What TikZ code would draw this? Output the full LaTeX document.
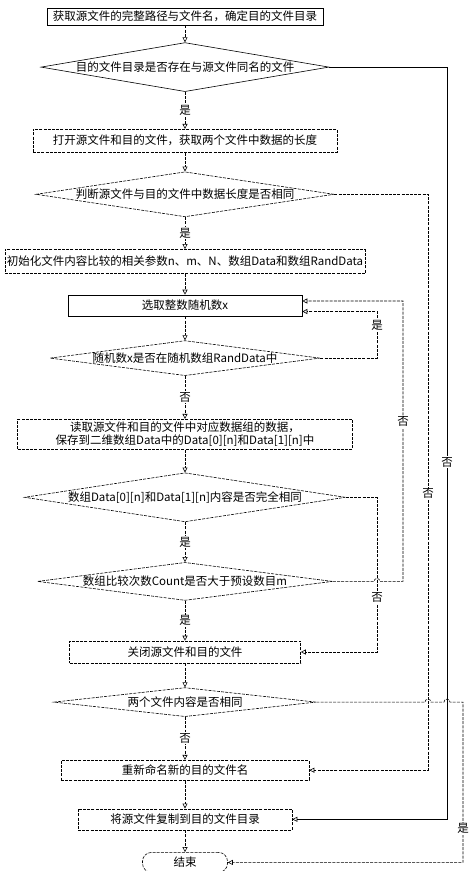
\documentclass[tikz,border=0pt]{standalone}
\usepackage{fontspec}
\setmainfont{Noto Sans CJK SC}
\usetikzlibrary{arrows.meta,positioning,shapes.geometric,calc}
\tikzset{
  dsh/.style ={line width=0.6pt,dash pattern=on 3pt off 1.2pt},
  blk/.style ={draw,dsh,align=center,inner sep=2pt},
  dec/.style ={draw,dsh,diamond,inner sep=0pt},
  term/.style={blk,rounded corners=9pt},
  flow/.style={dsh,-{Triangle[open,length=5pt,width=5pt]}},
  lbl/.style ={fill=white,inner sep=1pt},
}
\begin{document}
\begin{tikzpicture}[x=1pt,y=-1pt,font=\fontsize{11.5}{13.5}\selectfont]
  \useasboundingbox (0,0) rectangle (474,871);
  % main column
  \node[blk,solid,minimum width=276pt,minimum height=17pt] (b1) at (185,16.5) {获取源文件的完整路径与文件名，确定目的文件目录};
  \node[dec,solid,below=17pt of b1,minimum width=288pt,minimum height=49pt] (d1) {\makebox[0pt]{目的文件目录是否存在与源文件同名的文件}};
  \node[blk,below=37pt of d1,minimum width=304pt,minimum height=23pt] (b2) {打开源文件和目的文件，获取两个文件中数据的长度};
  \node[dec,below=19pt of b2,minimum width=298pt,minimum height=45pt] (d2) {\makebox[0pt]{判断源文件与目的文件中数据长度是否相同}};
  \node[blk,below=32pt of d2,minimum width=351pt,minimum height=24pt] (b3) {初始化文件内容比较的相关参数n、m、N、数组Data和数组RandData};
  \node[blk,solid,below=21pt of b3,minimum width=234pt,minimum height=21pt] (b4) {选取整数随机数x};
  \node[dec,below=24pt of b4,minimum width=270pt,minimum height=35pt] (d5) {\makebox[0pt]{随机数x是否在随机数组RandData中}};
  \node[blk,below=43pt of d5,minimum width=335pt,minimum height=30pt] (b6) {读取源文件和目的文件中对应数据组的数据，\\保存到二维数组Data中的Data[0][n]和Data[1][n]中};
  \node[dec,below=23pt of b6,minimum width=321pt,minimum height=49pt] (d7) {\makebox[0pt]{数组Data[0][n]和Data[1][n]内容是否完全相同}};
  \node[dec,below=40pt of d7,minimum width=295pt,minimum height=38pt] (d8) {\makebox[0pt]{数组比较次数Count是否大于预设数目m}};
  \node[blk,below=40pt of d8,minimum width=231pt,minimum height=22pt] (b9) {关闭源文件和目的文件};
  \node[dec,below=24pt of b9,minimum width=262pt,minimum height=29pt] (d10) {\makebox[0pt]{两个文件内容是否相同}};
  \node[blk,below=43pt of d10,minimum width=248pt,minimum height=20pt] (b11) {重新命名新的目的文件名};
  \node[blk,below=28pt of b11,minimum width=214pt,minimum height=21pt] (b12) {将源文件复制到目的文件目录};
  \node[term,below=22pt of b12,minimum width=85pt,minimum height=20pt] (end) {结束};
  \draw[flow] (b1) -- (d1);
  \draw[flow] (d1) -- (b2) node[midway,lbl] {是};
  \draw[flow] (b2) -- (d2);
  \draw[flow] (d2) -- (b3) node[midway,lbl] {是};
  \draw[flow] (b3) -- (b4);
  \draw[flow] (b4) -- (d5);
  \draw[flow] (d5) -- (b6) node[midway,lbl] {否};
  \draw[flow] (b6) -- (d7);
  \draw[flow] (d7) -- (d8) node[midway,lbl] {是};
  \draw[flow] (d8) -- (b9) node[midway,lbl] {是};
  \draw[flow] (b9) -- (d10);
  \draw[flow] (d10) -- (b11) node[midway,lbl] {否};
  \draw[flow] (b11) -- (b12);
  \draw[flow] (b12) -- (end);
  % right-hand returns
  \coordinate (xA) at (447,0);
  \coordinate (xB) at (428,0);
  \coordinate (xC) at (403,0);
  \coordinate (xD) at (377,0);
  \coordinate (xE) at (463,0);
  \coordinate (in4a) at ([yshift=4.5pt]b4.east);
  \coordinate (in4b) at ([yshift=-6pt]b4.east);
  \draw[flow,solid] (d1.east) -- (d1.east -| xA) -- (xA |- b12.east) node[pos=0.525,lbl] {否} -- (b12.east);
  \draw[flow] (d2.east) -- (d2.east -| xB) -- (xB |- b11.east) node[pos=0.52,lbl] {否} -- (b11.east);
  \draw[flow] (d5.east) -- (d5.east -| xD) -- (xD |- in4b) node[pos=0.7,lbl] {是} -- (in4b);
  \draw[flow] (d7.east) -- (d7.east -| xD) -- (xD |- b9.east) node[pos=0.65,lbl] {否} -- (b9.east);
  \draw[flow] (d8.east) -- ($(xD |- d8.east)+(-3,0)$) arc[start angle=180,end angle=0,radius=3pt]
    -- (d8.east -| xC) -- (xC |- in4a) node[pos=0.57,lbl] {否} -- (in4a);
  \draw[flow] (d10.east) -- ($(xB |- d10.east)+(-3,0)$) arc[start angle=180,end angle=0,radius=3pt]
    -- ($(xA |- d10.east)+(-3,0)$) arc[start angle=180,end angle=0,radius=3pt]
    -- (d10.east -| xE) -- (xE |- end.east) node[pos=0.79,lbl] {是} -- (end.east);
\end{tikzpicture}
\end{document}
